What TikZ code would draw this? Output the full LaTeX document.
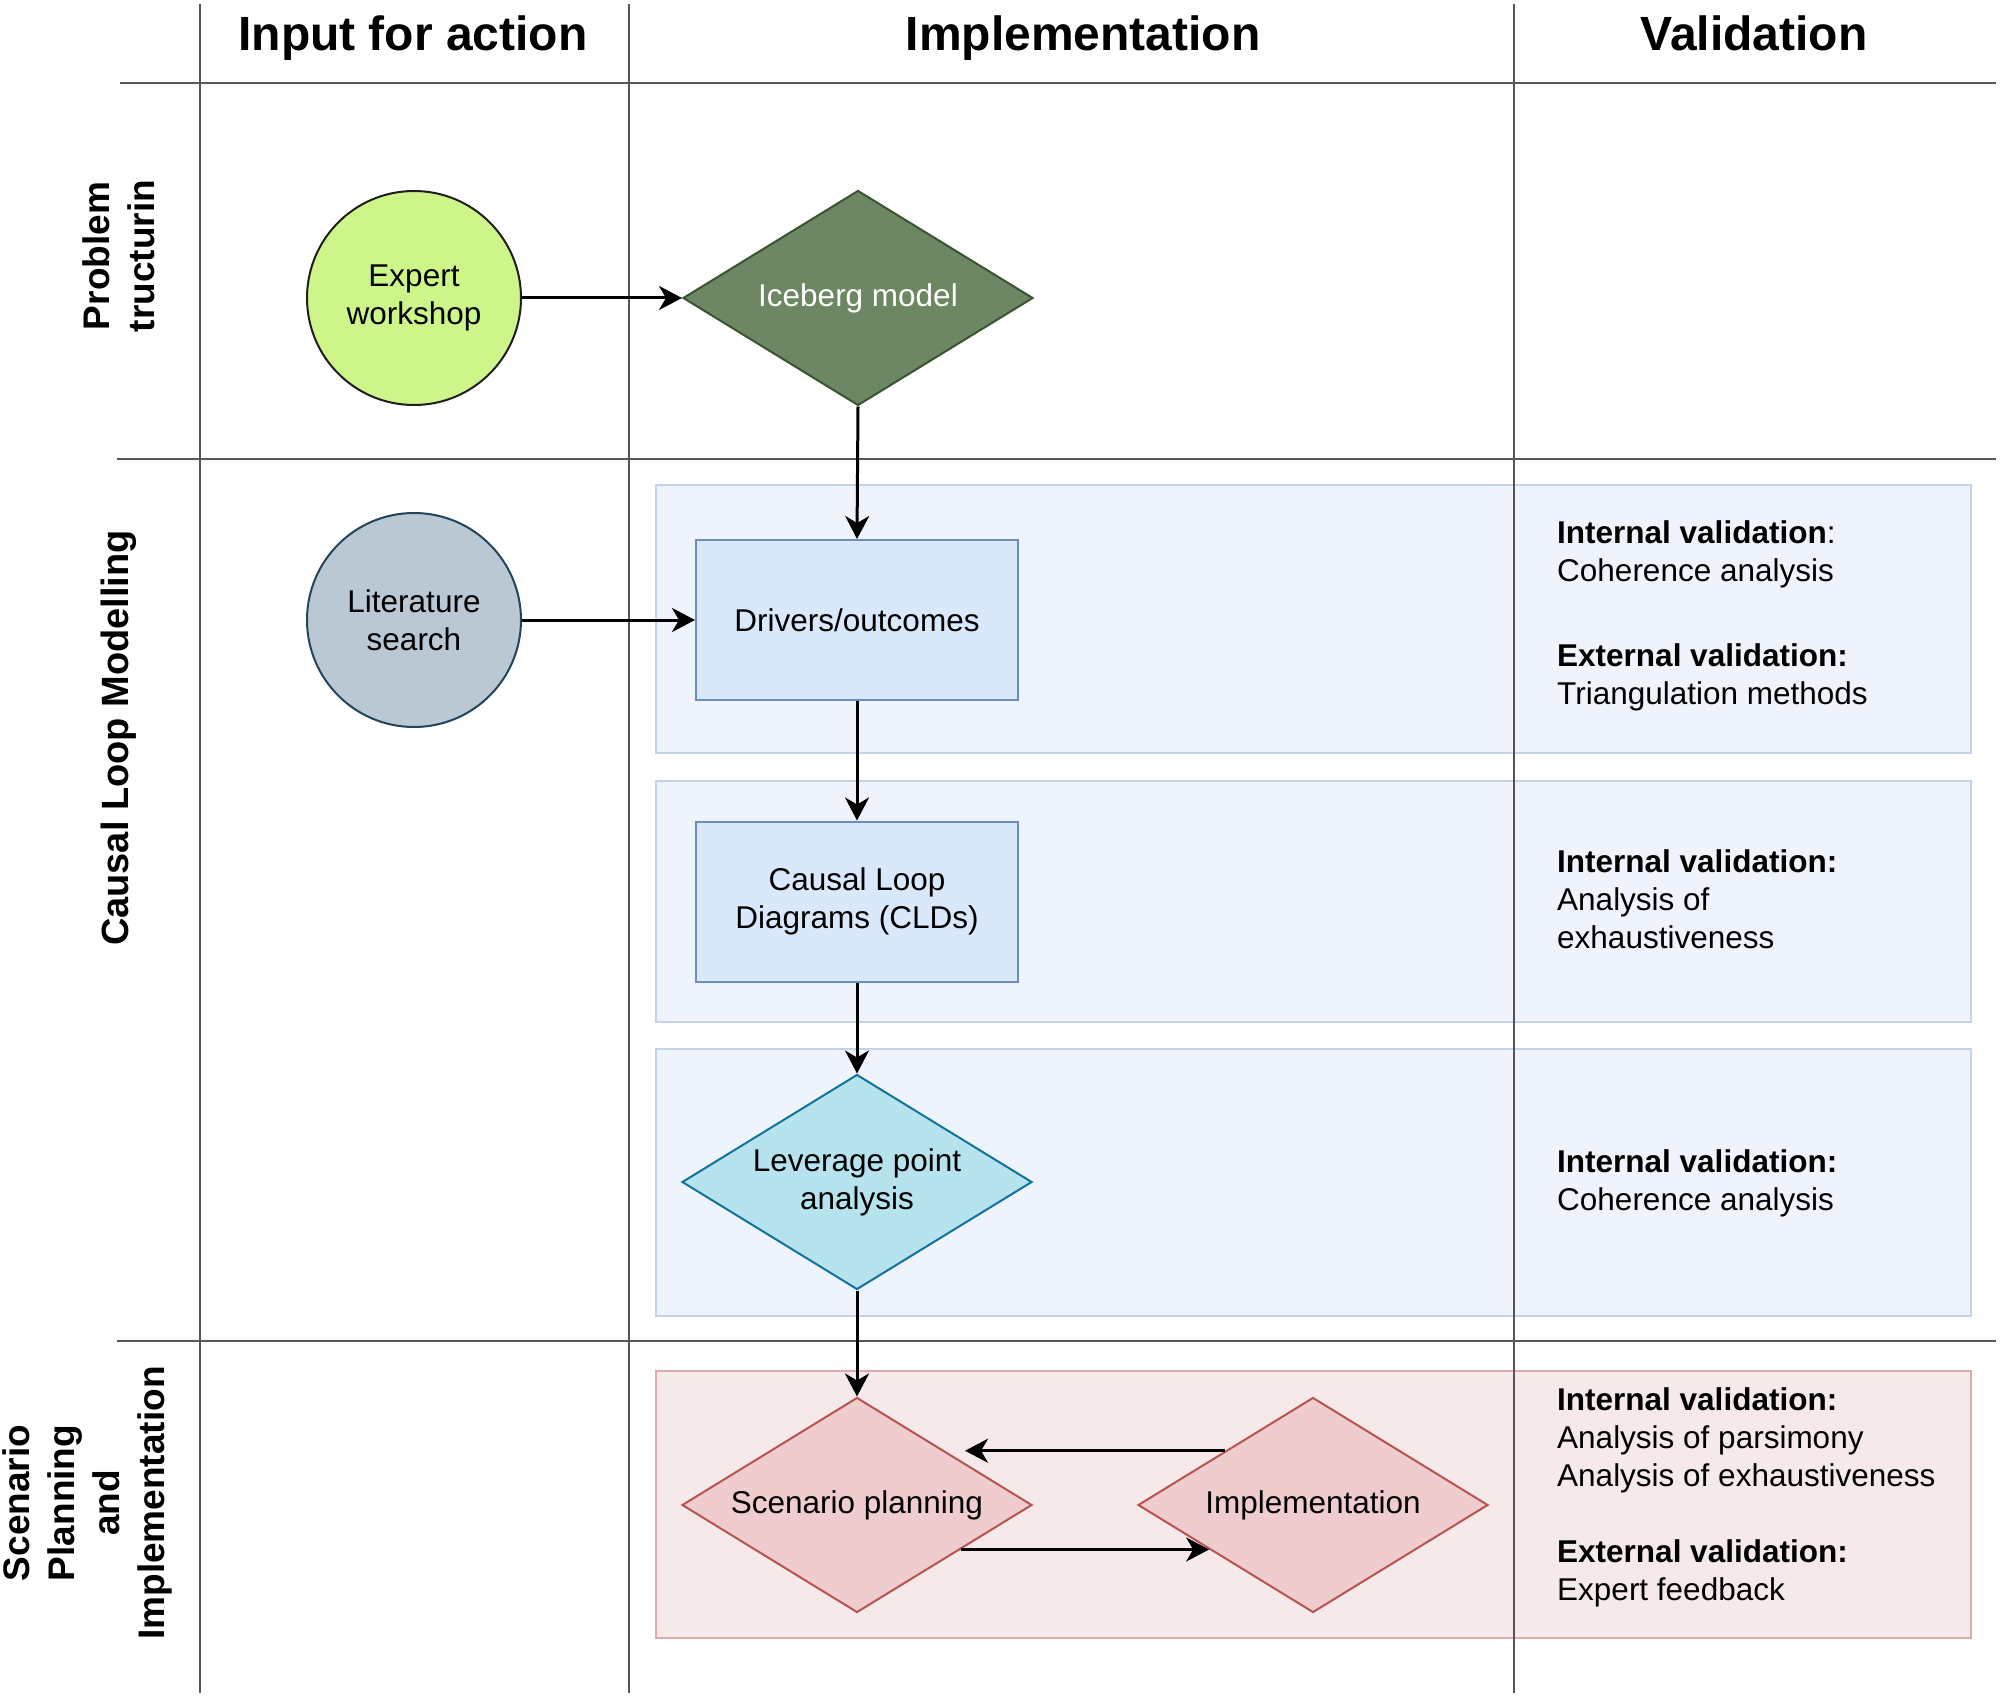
\documentclass[tikz,border=0pt]{standalone}
\usepackage{fontspec}
\setmainfont{Liberation Sans}
\usetikzlibrary{shapes.geometric,arrows.meta,calc}
\definecolor{gridc}{HTML}{555555}
\definecolor{expfill}{HTML}{CDF58A}
\definecolor{expdraw}{HTML}{1E1E1E}
\definecolor{icefill}{HTML}{6D8764}
\definecolor{icedraw}{HTML}{3A5431}
\definecolor{litfill}{HTML}{BAC8D3}
\definecolor{litdraw}{HTML}{23445D}
\definecolor{bluefill}{HTML}{DAE8FC}
\definecolor{bluedraw}{HTML}{6C8EBF}
\definecolor{levfill}{HTML}{B7E3EF}
\definecolor{levdraw}{HTML}{10739E}
\definecolor{redfill}{HTML}{EFCCCE}
\definecolor{reddraw}{HTML}{B85450}
\definecolor{bgblue}{HTML}{EFF4FC}
\definecolor{bgbluedraw}{HTML}{C2D3EA}
\definecolor{bgred}{HTML}{F6E9EA}
\definecolor{bgreddraw}{HTML}{DFAAAC}
\begin{document}
\begin{tikzpicture}[x=1pt,y=-1pt,
  lane/.style={draw=gridc,line width=2pt},
  arr/.style={-{Stealth[length=23pt,width=24pt,inset=7pt]},line width=3pt,black},
  txt/.style={font=\fontsize{31.5}{38}\selectfont},
  hdr/.style={font=\fontsize{48}{56}\selectfont\bfseries,anchor=base,inner sep=0},
  rowlab/.style={font=\fontsize{37}{45}\selectfont\bfseries,rotate=90,align=center,inner sep=0},
  circ/.style={circle,minimum size=214pt,inner sep=0,line width=2pt,align=center,txt},
  dia/.style={diamond,minimum width=350pt,minimum height=215pt,inner sep=0,line width=2pt},
  dlab/.style={txt,align=center,inner sep=0},
  rectn/.style={rectangle,minimum width=322pt,minimum height=160pt,inner sep=0,line width=2pt,align=center,txt},
  valtxt/.style={txt,anchor=north west,align=left,inner sep=0},
  bgb/.style={fill=bgblue,draw=bgbluedraw,line width=2pt},
  bgr/.style={fill=bgred,draw=bgreddraw,line width=2pt}
]
\useasboundingbox (0,0) rectangle (2000,1696);
\fill[white] (0,0) rectangle (2000,1696);

% background boxes
\draw[bgb] (656,485) rectangle (1971,753);
\draw[bgb] (656,781) rectangle (1971,1022);
\draw[bgb] (656,1049) rectangle (1971,1316);
\draw[bgr] (656,1371) rectangle (1971,1638);

% lanes
\draw[lane] (200,4) -- (200,1693);
\draw[lane] (629,4) -- (629,1693);
\draw[lane] (1514,4) -- (1514,1693);
\draw[lane] (120,83) -- (1996,83);
\draw[lane] (117,459) -- (1996,459);
\draw[lane] (117,1341) -- (1996,1341);

% headers
\node[hdr] (h1) at (413,51) {Input for action};
\node[hdr] (h2) at (1083,51) {Implementation};
\node[hdr] (h3) at (1754,51) {Validation};

% row labels
\node[rowlab] (r1) at (119,256) {Problem\\tructurin};
\node[rowlab,font=\fontsize{38}{46}\selectfont\bfseries] (r2) at (119,738) {Causal Loop Modelling};
\node[rowlab] (r3) at (87,1503) {Scenario\\Planning\\and\\Implementation};

% nodes
\node[circ,fill=expfill,draw=expdraw] (exp) at (414,298) {Expert\\workshop};
\node[dia,fill=icefill,draw=icedraw,label={[dlab,text=white]center:Iceberg model}] (ice) at (858,298) {};
\node[circ,fill=litfill,draw=litdraw] (lit) at (414,620) {Literature\\search};
\node[rectn,fill=bluefill,draw=bluedraw] (drv) at (857,620) {Drivers/outcomes};
\node[rectn,fill=bluefill,draw=bluedraw] (cld) at (857,901.5) {Causal Loop\\Diagrams (CLDs)};
\node[dia,fill=levfill,draw=levdraw,label={[dlab]center:Leverage point\\analysis}] (lev) at (857,1182) {};
\node[dia,fill=redfill,draw=reddraw,label={[dlab]center:Scenario planning}] (scen) at (857,1505) {};
\node[dia,fill=redfill,draw=reddraw,label={[dlab]center:Implementation}] (impl) at (1313,1505) {};

% validation texts
\node[valtxt] (v1) at (1557,520.5) {\textbf{Internal validation}:\\Coherence analysis\\[47pt]\textbf{External validation:}\\Triangulation methods};
\node[valtxt] (v2) at (1557,849.5) {\textbf{Internal validation:}\\Analysis of\\exhaustiveness};
\node[valtxt] (v3) at (1557,1149.5) {\textbf{Internal validation:}\\Coherence analysis};
\node[valtxt] (v4) at (1557,1387) {\textbf{Internal validation:}\\Analysis of parsimony\\Analysis of exhaustiveness\\[38pt]\textbf{External validation:}\\Expert feedback};

% connectors
\draw[arr] (exp.east) -- (ice.west);
\draw[arr] (ice.south) -- (drv.north);
\draw[arr] (lit.east) -- (drv.west);
\draw[arr] (drv.south) -- (cld.north);
\draw[arr] (cld.south) -- (lev.north);
\draw[arr] (lev.south) -- (scen.north);
\draw[arr] ($(impl.west)!0.5!(impl.north)$) -- ($(scen.east)!0.5!(scen.north)+(20,0)$);
\draw[arr] ($(scen.east)!0.41!(scen.south)$) -- ($(impl.west)!0.41!(impl.south)$);
\end{tikzpicture}
\end{document}
